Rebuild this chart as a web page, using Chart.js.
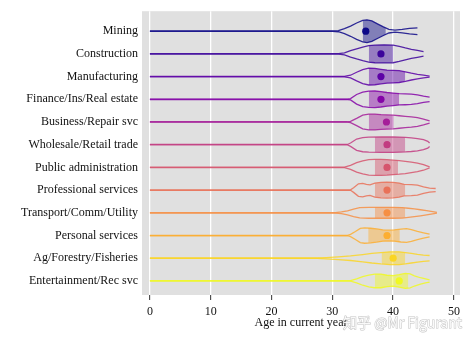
<!DOCTYPE html>
<html>
<head>
<meta charset="utf-8">
<script src="https://cdn.jsdelivr.net/npm/chart.js@4/dist/chart.umd.min.js"></script>
<style>
  html, body { margin: 0; background: #fff; }
  #wrap { width: 474px; height: 344px; }
</style>
</head>
<body>
<div id="wrap"><canvas id="chart"></canvas></div>
<script>
const categories = [
  'Mining', 'Construction', 'Manufacturing', 'Finance/Ins/Real estate',
  'Business/Repair svc', 'Wholesale/Retail trade', 'Public administration',
  'Professional services', 'Transport/Comm/Utility', 'Personal services',
  'Ag/Forestry/Fisheries', 'Entertainment/Rec svc'
];
const ageTicks = [0, 10, 20, 30, 40, 50];

// médiane et quartiles
const medians = [35.5, 38, 38, 38, 38.9, 39, 39, 39, 39, 39, 40, 41];
const q1s = [35, 36, 36, 36, 36, 37, 37, 37, 37, 35.9, 38.1, 37];
const q3s = [38.8, 40, 42, 41, 40.1, 42, 40.8, 42, 42, 41.1, 42, 42.5];

// profils de densité (âge, densité relative)
const violinAges = [
  [0, 30, 31, 32, 33, 34, 35, 35.7, 36.5, 37.5, 38.4, 39.3, 40.3, 41.5, 42.7, 44],
  [0, 31, 32, 33, 34, 35, 36, 37, 38.5, 40, 41, 42, 43, 44, 45],
  [0, 32, 33, 34, 35, 36, 37, 38, 39, 40, 41, 42, 43, 44, 45, 46],
  [0, 32.5, 33, 34, 35, 36, 37, 38, 39, 40, 41, 42, 43, 44, 45, 46],
  [0, 32.5, 33, 34, 35, 36, 37, 38, 39, 40, 41, 42, 43, 44, 45, 46],
  [0, 32.5, 33, 34, 35, 36, 38, 40, 42, 43, 44, 45, 45.7, 46],
  [0, 32, 33, 34, 35, 36, 37, 38, 39, 40, 41, 42, 43, 44, 45, 46],
  [0, 33, 33.5, 34.3, 35, 35.6, 36.2, 37, 38, 39, 40, 41, 41.8, 43, 44, 45, 46, 47],
  [0, 30.5, 31.5, 32.5, 33.5, 34.5, 36, 38, 40, 41.5, 42.5, 43.5, 44.5, 45.5, 46.5, 47.2],
  [0, 32.5, 33, 33.8, 34.6, 35.3, 36.3, 37.3, 38.3, 39.2, 40.2, 41.3, 42.2, 43, 44, 45, 46],
  [0, 27.5, 29, 31, 33, 35, 36.5, 38, 39.5, 41, 42, 43, 44, 45, 46],
  [0, 33, 34, 35, 36, 37, 38, 39, 40, 41, 42, 42.8, 43.5, 44.5, 45.5, 46]
];
const violinDensity = [
  [0.02, 0.02, 0.05, 0.22, 0.45, 0.72, 0.95, 1.0, 0.9, 0.62, 0.38, 0.16, 0.09, 0.15, 0.24, 0.3],
  [0.02, 0.02, 0.08, 0.28, 0.45, 0.6, 0.73, 0.78, 0.8, 0.78, 0.66, 0.52, 0.4, 0.3, 0.2],
  [0.02, 0.02, 0.12, 0.38, 0.62, 0.74, 0.72, 0.64, 0.57, 0.55, 0.52, 0.42, 0.3, 0.2, 0.12, 0.05],
  [0.02, 0.02, 0.06, 0.42, 0.64, 0.72, 0.73, 0.68, 0.6, 0.55, 0.5, 0.48, 0.45, 0.38, 0.27, 0.2],
  [0.02, 0.02, 0.06, 0.32, 0.6, 0.7, 0.7, 0.65, 0.62, 0.6, 0.55, 0.5, 0.45, 0.38, 0.25, 0.1],
  [0.02, 0.02, 0.15, 0.5, 0.62, 0.66, 0.68, 0.68, 0.64, 0.6, 0.54, 0.44, 0.3, 0.15],
  [0.02, 0.02, 0.18, 0.42, 0.58, 0.68, 0.7, 0.7, 0.68, 0.64, 0.6, 0.54, 0.46, 0.38, 0.25, 0.05],
  [0.02, 0.02, 0.2, 0.55, 0.6, 0.5, 0.46, 0.62, 0.68, 0.7, 0.68, 0.62, 0.5, 0.48, 0.44, 0.28, 0.18, 0.14],
  [0.02, 0.02, 0.08, 0.18, 0.33, 0.45, 0.48, 0.48, 0.48, 0.46, 0.4, 0.34, 0.27, 0.19, 0.1, 0.03],
  [0.02, 0.02, 0.1, 0.35, 0.62, 0.68, 0.64, 0.58, 0.5, 0.47, 0.5, 0.57, 0.6, 0.52, 0.36, 0.24, 0.12],
  [0.02, 0.02, 0.06, 0.12, 0.2, 0.32, 0.42, 0.5, 0.56, 0.56, 0.5, 0.42, 0.34, 0.28, 0.24],
  [0.02, 0.02, 0.18, 0.38, 0.52, 0.6, 0.6, 0.5, 0.46, 0.55, 0.66, 0.62, 0.45, 0.28, 0.16, 0.1]
];

const palette = ['#0d0887', '#3c049b', '#5d01a6', '#8405a7', '#a51f99', '#c23c81',
  '#d6556d', '#e97158', '#f68f44', '#fcae32', '#fad524', '#f0f921'];
const HALF = 0.5;

function alpha(hex, a) {
  const n = parseInt(hex.slice(1), 16);
  return `rgba(${n >> 16}, ${(n >> 8) & 255}, ${n & 255}, ${a})`;
}

function densityAt(ages, dens, a) {
  for (let k = 1; k < ages.length; k++) {
    if (a <= ages[k]) {
      const t = (a - ages[k - 1]) / (ages[k] - ages[k - 1]);
      return dens[k - 1] + t * (dens[k] - dens[k - 1]);
    }
  }
  return dens[dens.length - 1];
}

const datasets = [];
categories.forEach((cat, i) => {
  const ages = violinAges[i];
  const dens = violinDensity[i];
  const col = palette[i];

  // boîte interquartile (zone remplie)
  const box = [{ a: q1s[i], d: densityAt(ages, dens, q1s[i]) }];
  ages.forEach((a, k) => { if (a > q1s[i] && a < q3s[i]) box.push({ a, d: dens[k] }); });
  box.push({ a: q3s[i], d: densityAt(ages, dens, q3s[i]) });

  datasets.push({
    data: box.map(p => ({ x: p.a, y: i - p.d * HALF })),
    borderWidth: 0, pointRadius: 0, fill: '+1',
    backgroundColor: alpha(col, 0.45), order: 3
  });
  datasets.push({
    data: box.map(p => ({ x: p.a, y: i + p.d * HALF })),
    borderWidth: 0, pointRadius: 0, fill: false, order: 3
  });

  // contour du violon
  datasets.push({
    data: ages.map((a, k) => ({ x: a, y: i - dens[k] * HALF })),
    borderColor: alpha(col, 0.85), borderWidth: 1.3, pointRadius: 0, fill: false, order: 2
  });
  datasets.push({
    data: ages.map((a, k) => ({ x: a, y: i + dens[k] * HALF })),
    borderColor: alpha(col, 0.85), borderWidth: 1.3, pointRadius: 0, fill: false, order: 2
  });

  // médiane
  datasets.push({
    type: 'scatter',
    data: [{ x: medians[i], y: i }],
    pointRadius: 3.6, backgroundColor: col, borderWidth: 0, order: 1
  });
});

const panelBg = {
  id: 'panelBg',
  beforeDraw(chart) {
    const { ctx, chartArea: a } = chart;
    ctx.save();
    ctx.fillStyle = '#e0e0e0';
    ctx.fillRect(a.left, a.top, a.right - a.left, a.bottom - a.top);
    ctx.restore();
  }
};

const watermark = {
  id: 'watermark',
  afterDraw(chart) {
    const ctx = chart.ctx;
    ctx.save();
    ctx.font = '14px "Noto Sans CJK SC"';
    ctx.textBaseline = 'middle';
    ctx.lineWidth = 1;
    ctx.strokeStyle = 'rgba(120,120,120,0.45)';
    ctx.fillStyle = 'rgba(255,255,255,0.9)';
    ctx.strokeText('知乎 @Mr Figurant', 343, 323);
    ctx.fillText('知乎 @Mr Figurant', 343, 323);
    ctx.restore();
  }
};

new Chart(document.getElementById('chart'), {
  type: 'line',
  data: { datasets },
  options: {
    responsive: true,
    maintainAspectRatio: false,
    animation: false,
    layout: { padding: { left: 0, right: 14, top: 11, bottom: 0 } },
    plugins: { legend: { display: false }, tooltip: { enabled: false } },
    scales: {
      x: {
        type: 'linear',
        min: -1.3,
        max: 51,
        afterBuildTicks: s => { s.ticks = ageTicks.map(v => ({ value: v })); },
        afterFit: s => { s.height = 49; },
        grid: { color: '#ffffff', lineWidth: 1.3, tickColor: '#333', tickWidth: 1, tickLength: 5 },
        border: { display: false },
        ticks: { padding: 5, color: '#111', font: { family: 'Liberation Serif', size: 12 }, maxRotation: 0 },
        title: {
          display: true, text: 'Age in current year', color: '#111',
          font: { family: 'Liberation Serif', size: 12 }, padding: { top: 2, bottom: 14 }
        }
      },
      y: {
        type: 'linear',
        reverse: true,
        min: -0.88,
        max: 11.62,
        afterBuildTicks: s => { s.ticks = categories.map((c, i) => ({ value: i })); },
        afterFit: s => { s.width = 142; },
        grid: { display: false, drawTicks: false },
        border: { display: false },
        ticks: {
          padding: 4, color: '#111', autoSkip: false,
          font: { family: 'Liberation Serif', size: 12 },
          callback: v => categories[v]
        }
      }
    }
  },
  plugins: [panelBg, watermark]
});
</script>
</body>
</html>
